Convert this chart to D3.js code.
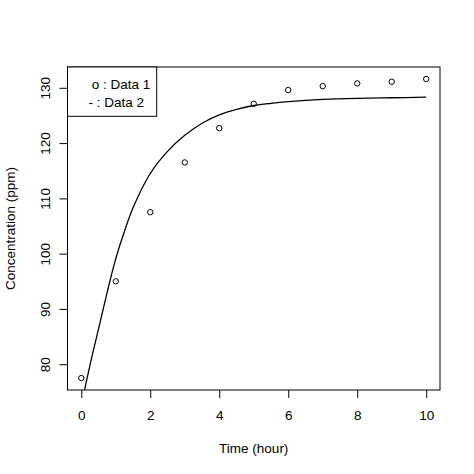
<!DOCTYPE html>
<html>
<head>
<meta charset="utf-8">
<script src="https://cdn.jsdelivr.net/npm/d3@7"></script>
<style>
  body { margin: 0; background: #fff; }
  svg { display: block; }
  text { font-family: "Liberation Sans", Arial, sans-serif; font-size: 13.5px; fill: #000; }
  .axis path, .axis line { stroke: #000; }
</style>
</head>
<body>
<svg id="chart" width="474" height="474"></svg>
<script>

// Data 1: observed points
var time = [0, 1, 2, 3, 4, 5, 6, 7, 8, 9, 10];
var conc = [77.5, 95.0, 107.5, 116.5, 122.7, 127.1, 129.6, 130.3, 130.8, 131.1, 131.6];

// Data 2: model curve
var curveTime = [0, 0.25, 0.5, 0.75, 1, 1.25, 1.5, 2, 2.5, 3, 3.5, 4, 4.5, 5, 5.5, 6, 7, 8, 9, 10];
var curveConc = [72.6, 79.8, 86.4, 93.0, 99.1, 104.0, 108.3, 114.5, 118.5, 121.4, 123.6, 125.1, 126.1, 126.8, 127.2, 127.5, 127.9, 128.1, 128.2, 128.3];

var xTicks = [0, 2, 4, 6, 8, 10];
var yTicks = [80, 90, 100, 110, 120, 130];
var legendLabels = ["o : Data 1", "- : Data 2"];

var margin = {top: 67, right: 34, bottom: 84, left: 67.5},
    width = 474,
    height = 474;

var svg = d3.select("#chart");

// R style: pad the data range by 4% on each side
function padded(ext) {
  var d = (ext[1] - ext[0]) * 0.04;
  return [ext[0] - d, ext[1] + d];
}

var xScale = d3.scaleLinear()
    .domain(padded(d3.extent(time)))
    .range([margin.left, width - margin.right]);

var yScale = d3.scaleLinear()
    .domain(padded(d3.extent(conc)))
    .range([height - margin.bottom, margin.top]);

var x0 = xScale.range()[0], x1 = xScale.range()[1],
    y0 = yScale.range()[1], y1 = yScale.range()[0];

svg.append("clipPath")
    .attr("id", "plotClip")
  .append("rect")
    .attr("x", x0)
    .attr("y", y0)
    .attr("width", x1 - x0)
    .attr("height", y1 - y0);

// axes
var xAxis = d3.axisBottom(xScale).tickValues(xTicks).tickSize(8).tickSizeOuter(0).tickPadding(12.4);
var yAxis = d3.axisLeft(yScale).tickValues(yTicks).tickSize(8).tickSizeOuter(0);

svg.append("g")
    .attr("class", "axis")
    .attr("transform", "translate(0," + y1 + ")")
    .call(xAxis)
    .call(function(g) { g.select(".domain").remove(); })
    .call(function(g) {
      g.selectAll("text").style("font-size", "13.5px").style("font-family", null);
    });

svg.append("g")
    .attr("class", "axis")
    .attr("transform", "translate(" + x0 + ",0)")
    .call(yAxis)
    .call(function(g) { g.select(".domain").remove(); })
    .call(function(g) {
      g.selectAll("text")
          .attr("x", null)
          .attr("dy", null)
          .attr("text-anchor", "middle")
          .attr("transform", "translate(-17.5,0) rotate(-90)")
          .style("font-size", "13.5px")
          .style("font-family", null);
    });

svg.selectAll(".axis text").attr("fill", "#000");

// plot box
svg.append("rect")
    .attr("x", x0)
    .attr("y", y0)
    .attr("width", x1 - x0)
    .attr("height", y1 - y0)
    .attr("fill", "none")
    .attr("stroke", "#000")
    .attr("stroke-width", 1);

// model curve
var line = d3.line()
    .x(function(d, i) { return xScale(curveTime[i]); })
    .y(function(d) { return yScale(d); })
    .curve(d3.curveCatmullRom.alpha(0.5));

svg.append("path")
    .datum(curveConc)
    .attr("clip-path", "url(#plotClip)")
    .attr("d", line)
    .attr("fill", "none")
    .attr("stroke", "#000")
    .attr("stroke-width", 1.3);

// observed points
svg.selectAll(".dot")
    .data(conc)
  .enter()
    .append("circle")
    .attr("class", "dot")
    .attr("cx", function(d, i) { return xScale(time[i]); })
    .attr("cy", function(d) { return yScale(d); })
    .attr("r", 2.7)
    .attr("fill", "none")
    .attr("stroke", "#000")
    .attr("stroke-width", 1);

// axis titles
svg.append("text")
    .attr("x", (x0 + x1) / 2)
    .attr("y", 452.5)
    .attr("text-anchor", "middle")
    .text("Time (hour)");

svg.append("text")
    .attr("transform", "translate(14.5," + (y0 + y1) / 2 + ") rotate(-90)")
    .attr("text-anchor", "middle")
    .text("Concentration (ppm)");

// legend
var legend = svg.append("g");

legend.append("rect")
    .attr("x", x0)
    .attr("y", y0)
    .attr("width", 89.2)
    .attr("height", 49.3)
    .attr("fill", "#fff")
    .attr("stroke", "#000")
    .attr("stroke-width", 1);

legend.selectAll(".legtext")
    .data(legendLabels)
  .enter()
    .append("text")
    .attr("class", "legtext")
    .attr("x", function(d, i) { return i === 0 ? 91.7 : 88.5; })
    .attr("y", function(d, i) { return 89.3 + i * 17.5; })
    .text(function(d) { return d; });

</script>
</body>
</html>
